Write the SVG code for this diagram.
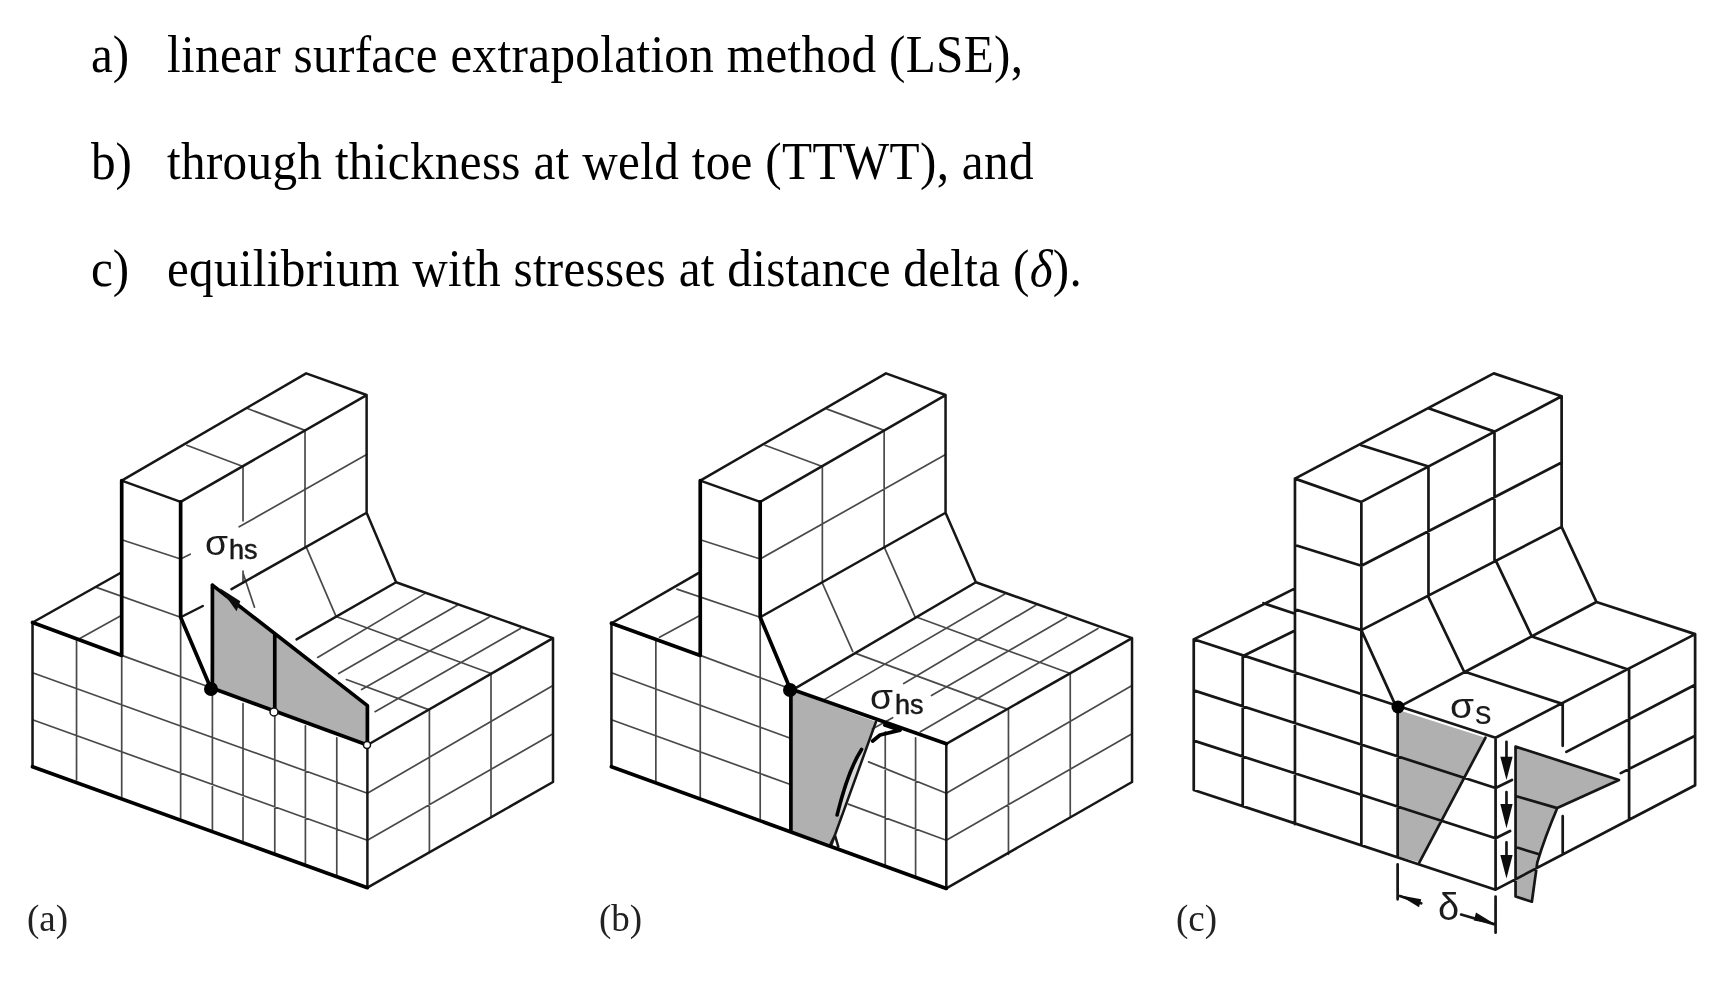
<svg xmlns="http://www.w3.org/2000/svg" width="1729" height="1001" viewBox="0 0 1729 1001">
<defs><filter id="soft" x="-5%" y="-5%" width="110%" height="110%"><feGaussianBlur stdDeviation="0.45"/></filter></defs>
<style>
path{fill:none;stroke-linecap:round;stroke-linejoin:round;vector-effect:non-scaling-stroke}
.t{stroke:#4a4a4a;stroke-width:1.7}
.m{stroke:#151515;stroke-width:2.5}
.k{stroke:#050505;stroke-width:3.7}
path.g{fill:#b0b0b0;stroke:none}
path.l{fill:#d8d8d8;stroke:none}
path.f{fill:#111;stroke:none}
#panel-c .m{stroke-width:2.7}
.ser{font-family:"Liberation Serif","Times New Roman",serif;fill:#000}
.cap{font-size:37px;fill:#222}
.san{font-family:"Liberation Sans",Arial,sans-serif;fill:#1a1a1a}
.sig{font-size:35px}
.sub{font-size:27px;stroke:#1a1a1a;stroke-width:.5}
.head{font-size:52px}
</style>
<rect width="1729" height="1001" fill="#fff"/>
<g id="caption">
<text class="ser head" transform="translate(91,72) scale(.946,1)">a)</text><text class="ser head" transform="translate(167,72) scale(.946,1)" textLength="905">linear surface extrapolation method (LSE),</text>
<text class="ser head" transform="translate(91,179) scale(.946,1)">b)</text><text class="ser head" transform="translate(167,179) scale(.946,1)" textLength="916">through thickness at weld toe (TTWT), and</text>
<text class="ser head" transform="translate(91,286) scale(.946,1)">c)</text><text class="ser head" transform="translate(167,286) scale(.946,1)" textLength="967">equilibrium with stresses at distance delta (<tspan font-style="italic">δ</tspan>).</text>
</g>
<g id="panel-a" filter="url(#soft)">
<g transform="translate(0,340) scale(.3827,.4018)">
<path class="g" d="M555 610L960 910V1005L550 865Z"/>
<path class="t" d="M645 170L797 225M488 262L635 315M635 315V450M635 575V605M797 225V515M958 285L625 465M318 497L472 545L497 533M250 615L472 690M205 745L318 685M800 515L878 688M635 580L665 665M318 785L550 865M85 828L960 1128M85 945L960 1245M200 745V1095M318 785V1138M472 690V1190M555 865V1218M635 905V1245M718 920V1275M798 960V1302M880 990V1330M960 1128L1445 860M960 1245L1445 980M1122 920V1275M1283 830V1185M878 688L1283 830M905 845L1120 920M1112 630L830 790M1195 660L885 830M1278 690L945 870M1360 718L980 925"/>
<path class="m" d="M85 703V1062M85 703L318 578M318 350L800 83L958 137V430L1035 603L1445 742V1100L960 1363V1008L1445 742M775 745L1035 603M958 430L605 620M530 662L472 690M958 137L472 403M318 350L472 403"/>
<path class="k" d="M85 703L318 785V350M472 403V690L550 865L960 1008M85 1062L960 1363M555 610V865M555 610L960 910V1008M718 735V920"/>
<path class="f" d="M575 618L628 650L618 675Z"/>
</g>
<circle cx="211" cy="689" r="7" fill="#000"/>
<circle cx="274" cy="712" r="4" fill="#fff" stroke="#111" stroke-width="1.5"/>
<circle cx="367" cy="745" r="3.5" fill="#fff" stroke="#111" stroke-width="1.5"/>
<text class="san sig" x="205" y="555" textLength="23" lengthAdjust="spacingAndGlyphs">σ</text>
<text class="san sub" x="229" y="559">hs</text>
<text class="ser cap" x="27" y="931">(a)</text>
</g>
<g id="panel-b" filter="url(#soft)">
<g transform="translate(580,340) scale(.37,.4018)">
<path class="g" d="M570 872L800 950L680 1255L570 1222Z"/>
<path class="l" d="M761 1019Q725 1070 695 1182L709 1182L773 1019Z"/>
<path class="t" d="M668 172L822 225M500 262L655 315M655 315V605M822 225V515M988 285L487 545M325 497L487 545M655 605L737 775M822 515L905 688M262 620L487 690M325 785L568 868M85 828L565 990M780 1050L990 1128M85 945L565 1105M725 1155L990 1245M205 745V1098M325 785V1138M487 690V1190M825 975V1305M907 990V1335M990 1128L1492 860M990 1245L1492 980M1158 920V1280M1325 830V1185M215 740L325 685M905 688L1325 830M745 780L1158 920M1148 632L660 895M1232 660L875 855M1315 690L950 885M1400 718L920 975M845 940L790 968"/>
<path class="m" d="M85 705V1062M85 705L320 580M325 350L827 83L988 137V430L1070 603L1492 742V1100L990 1365V1005L1492 742M988 430L487 690M1070 603L585 865M988 137L487 403M325 350L487 403M800 950L680 1255M676 1257L689 1232L698 1261"/>
<path class="k" d="M85 705L325 785V350M487 403V690L568 868L990 1005M85 1062L990 1365M570 868V1222M761 1019Q725 1070 695 1182M791 998L811 983L865 971L824 958"/>
</g>
<circle cx="790" cy="690" r="7" fill="#000"/>
<text class="san sig" x="870" y="709" textLength="23" lengthAdjust="spacingAndGlyphs">σ</text>
<text class="san sub" x="895" y="714">hs</text>
<text class="ser cap" x="599" y="931">(b)</text>
</g>
<g id="panel-c" filter="url(#soft)">
<g transform="translate(1160,340) scale(.3628,.4018)">
<path class="g" d="M655 920L897 990L715 1300L655 1285Z"/>
<path class="g" d="M980 1012L1265 1095L1095 1165Q1060 1240 1040 1300L1025 1398L980 1385Z"/>
<path class="m" d="M93 745V1120L925 1368V990L1475 732V1108L925 1368M93 745L368 620M93 745L925 990M232 785L368 725M285 655L368 680M372 345L920 83L1107 140L555 403L372 345M372 345V1205M555 403V1258M555 262L740 315M740 170L922 228M740 315V640M922 228V548M1107 140V465M372 510L555 562L1107 305M372 670L555 722L1107 465M555 722L652 915M740 640L838 825M925 548L1025 738M1107 465L1203 652L655 915M1203 652L1475 732M838 825L1107 905M1025 738L1290 820M93 872L925 1115L970 1095M93 997L925 1240L965 1222M228 785V1160M655 915V1285M1120 1025L1475 858M1270 1078L1475 985M1110 905V1010M1110 1185V1280M1293 820V1192M897 990L715 1300M980 1012L1265 1095L1095 1165Q1060 1240 1040 1300L1025 1398L980 1385V1012M980 1135L1095 1165M980 1262L1045 1280M655 1305V1392M925 1385V1475M655 1382L720 1402M830 1430L925 1455M955 1000V1080M955 1125V1200M955 1250V1325"/>
<path class="f" d="M938 1037H972L955 1095ZM938 1155H972L955 1215ZM938 1282H972L955 1340ZM660 1382L720 1392L714 1412ZM925 1455L865 1445L871 1425Z"/>
</g>
<circle cx="1398" cy="707" r="6.5" fill="#000"/>
<text class="san sig" x="1450" y="718" textLength="24" lengthAdjust="spacingAndGlyphs">σ</text>
<text class="san" x="1475" y="724" font-size="33">s</text>
<text class="san" x="1438" y="920" font-size="38">δ</text>
<text class="ser cap" x="1176" y="931">(c)</text>
</g>
</svg>
